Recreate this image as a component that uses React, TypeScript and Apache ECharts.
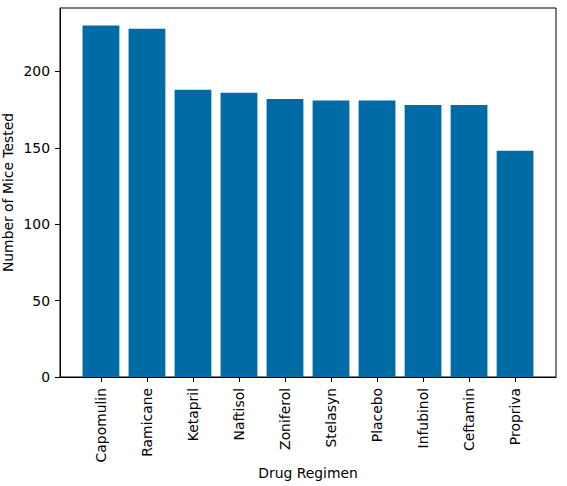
import React, { useEffect, useRef } from "react";
import * as echarts from "echarts";

const categories = [
  "Capomulin",
  "Ramicane",
  "Ketapril",
  "Naftisol",
  "Zoniferol",
  "Stelasyn",
  "Placebo",
  "Infubinol",
  "Ceftamin",
  "Propriva",
];
const miceCounts = [230, 228, 188, 186, 182, 181, 181, 178, 178, 148];
const yTicks = [0, 50, 100, 150, 200];

const FONT = "DejaVu Sans";
const FS = 13.9;

export default function App() {
  const ref = useRef<HTMLDivElement>(null);
  useEffect(() => {
    if (!ref.current) return;
    const chart = echarts.init(ref.current, null, { renderer: "svg" });
    const xIdx = categories.map((_, i) => i);
    chart.setOption({
      animation: false,
      backgroundColor: "#ffffff",
      textStyle: { fontFamily: FONT },
      grid: {
        left: 60,
        top: 8,
        right: 11,
        bottom: 109,
        containLabel: false,
        outerBoundsMode: "none",
        show: true,
        borderColor: "#000",
        borderWidth: 1,
        backgroundColor: "transparent",
      },
      xAxis: {
        type: "value",
        min: -0.89,
        max: 9.89,
        name: "Drug Regimen",
        nameLocation: "middle",
        nameGap: 89,
        nameMoveOverlap: false,
        nameTextStyle: { fontFamily: FONT, fontSize: FS, color: "#000" },
        axisLine: { show: true, onZero: false, lineStyle: { color: "#000", width: 1 } },
        axisTick: {
          show: true,
          length: 5,
          inside: false,
          customValues: xIdx,
          lineStyle: { color: "#000", width: 1 },
        },
        axisLabel: {
          customValues: xIdx,
          rotate: 90,
          margin: 11,
          fontFamily: FONT,
          fontSize: FS,
          color: "#000",
          formatter: (v: number) => categories[Math.round(v)] ?? "",
        },
        splitLine: { show: false },
      },
      yAxis: {
        type: "value",
        min: 0,
        max: 241.5,
        name: "Number of Mice Tested",
        nameLocation: "middle",
        nameGap: 45,
        nameMoveOverlap: false,
        nameTextStyle: { fontFamily: FONT, fontSize: FS, color: "#000" },
        axisLine: { show: true, onZero: false, lineStyle: { color: "#000", width: 1 } },
        axisTick: {
          show: true,
          length: 5,
          inside: false,
          customValues: yTicks,
          lineStyle: { color: "#000", width: 1 },
        },
        axisLabel: {
          customValues: yTicks,
          margin: 10,
          fontFamily: FONT,
          fontSize: FS,
          color: "#000",
        },
        splitLine: { show: false },
      },
      series: [
        {
          type: "bar",
          data: miceCounts.map((v, i) => [i, v]),
          barWidth: 36.8,
          itemStyle: { color: "#006BA4" },
        },
      ],
    });
    return () => chart.dispose();
  }, []);
  return (
    <div
      ref={ref}
      style={{ position: "fixed", left: 0, top: 0, width: 567, height: 486 }}
    />
  );
}
